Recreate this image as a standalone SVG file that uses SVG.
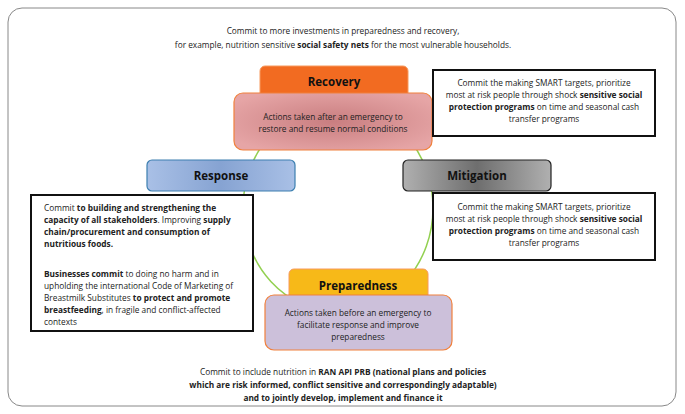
<svg xmlns="http://www.w3.org/2000/svg" width="685" height="414" viewBox="0 0 685 414">
<defs>
<style>
text{font-family:"Open Sans","Liberation Sans",sans-serif;font-size:8.3px;fill:#222}
.b{font-weight:bold}
.h{font-size:11.5px;font-weight:bold;text-anchor:middle;fill:#111}
.c{text-anchor:middle}
.box{fill:#fff;stroke:#111;stroke-width:2}
</style>
<radialGradient id="gPink" cx="0.5" cy="0.5" r="0.6"><stop offset="0" stop-color="#C97E80"/><stop offset="1" stop-color="#E6A5A6"/></radialGradient>
<linearGradient id="gBlue" x1="0" x2="1"><stop offset="0" stop-color="#A9C0E6"/><stop offset="0.5" stop-color="#86A3D2"/><stop offset="1" stop-color="#A9C0E6"/></linearGradient>
<linearGradient id="gGray" x1="0" x2="1"><stop offset="0" stop-color="#B0B0B0"/><stop offset="0.5" stop-color="#6E6E6E"/><stop offset="1" stop-color="#B0B0B0"/></linearGradient>
</defs>
<rect x="8" y="8" width="668" height="398" rx="14" fill="#fff" stroke="#888" stroke-width="1"/>
<text class="c" x="343" y="34">Commit to more investments in preparedness and recovery,</text>
<text class="c" x="343" y="48">for example, nutrition sensitive <tspan class="b">social safety nets</tspan> for the most vulnerable households.</text>
<g id="connectors"><ellipse cx="338" cy="208" rx="95" ry="104" fill="none" stroke="#92D050" stroke-width="1.5"/></g>
<g id="recovery">
<rect x="260" y="66" width="148" height="32" rx="5" fill="#F26B21" stroke="#F79A5E"/>
<text class="h" x="334" y="86">Recovery</text>
<rect x="234" y="93" width="198" height="57" rx="9" fill="url(#gPink)" stroke="#F0803C" stroke-width="1.2"/>
<text class="c" x="333" y="120">Actions taken after an emergency to</text>
<text class="c" x="333" y="132">restore and resume normal conditions</text>
</g>
<g id="box-recovery">
<rect class="box" x="433" y="70" width="222" height="66"/>
<text class="c" x="544" y="86">Commit the making SMART targets, prioritize</text>
<text class="c" x="544" y="98">most at risk people through shock <tspan class="b">sensitive social</tspan></text>
<text class="c" x="544" y="110"><tspan class="b">protection programs</tspan> on time and seasonal cash</text>
<text class="c" x="544" y="122">transfer programs</text>
</g>
<g id="response">
<rect x="147" y="160" width="148" height="31" rx="5" fill="url(#gBlue)" stroke="#3C7FB0" stroke-width="1.2"/>
<text class="h" x="221" y="180">Response</text>
</g>
<g id="mitigation">
<rect x="403" y="160" width="148" height="31" rx="5" fill="url(#gGray)" stroke="#222" stroke-width="1.2"/>
<text class="h" x="477" y="180">Mitigation</text>
</g>
<g id="box-response">
<rect class="box" x="31" y="195" width="222" height="136"/>
<text x="44" y="211">Commit <tspan class="b">to building and strengthening the</tspan></text>
<text x="44" y="223" class="b">capacity of all stakeholders<tspan font-weight="normal">. Improving </tspan>supply</text>
<text x="44" y="235" class="b">chain/procurement and consumption of</text>
<text x="44" y="247" class="b">nutritious foods.</text>
<text x="44" y="277"><tspan class="b">Businesses commit</tspan> to doing no harm and in</text>
<text x="44" y="289">upholding the international Code of Marketing of</text>
<text x="44" y="301">Breastmilk Substitutes <tspan class="b">to protect and promote</tspan></text>
<text x="44" y="313"><tspan class="b">breastfeeding</tspan>, in fragile and conflict-affected</text>
<text x="44" y="325">contexts</text>
</g>
<g id="box-mitigation">
<rect class="box" x="433" y="193" width="222" height="67"/>
<text class="c" x="544" y="210">Commit the making SMART targets, prioritize</text>
<text class="c" x="544" y="222">most at risk people through shock <tspan class="b">sensitive social</tspan></text>
<text class="c" x="544" y="234"><tspan class="b">protection programs</tspan> on time and seasonal cash</text>
<text class="c" x="544" y="246">transfer programs</text>
</g>
<g id="preparedness">
<rect x="289" y="269" width="139" height="32" rx="5" fill="#F7B918" stroke="#F79A5E"/>
<text class="h" x="358" y="290">Preparedness</text>
<rect x="265" y="295" width="187" height="55" rx="9" fill="#CCC0DA" stroke="#F0803C" stroke-width="1.2"/>
<text class="c" x="358" y="316">Actions taken before an emergency to</text>
<text class="c" x="358" y="328">facilitate response and improve</text>
<text class="c" x="358" y="340">preparedness</text>
</g>
<text class="c" x="343" y="375">Commit to include nutrition in <tspan class="b">RAN API PRB (national plans and policies</tspan></text>
<text class="c b" x="343" y="388">which are risk informed, conflict sensitive and correspondingly adaptable)</text>
<text class="c b" x="343" y="401">and to jointly develop, implement and finance it</text>
</svg>
